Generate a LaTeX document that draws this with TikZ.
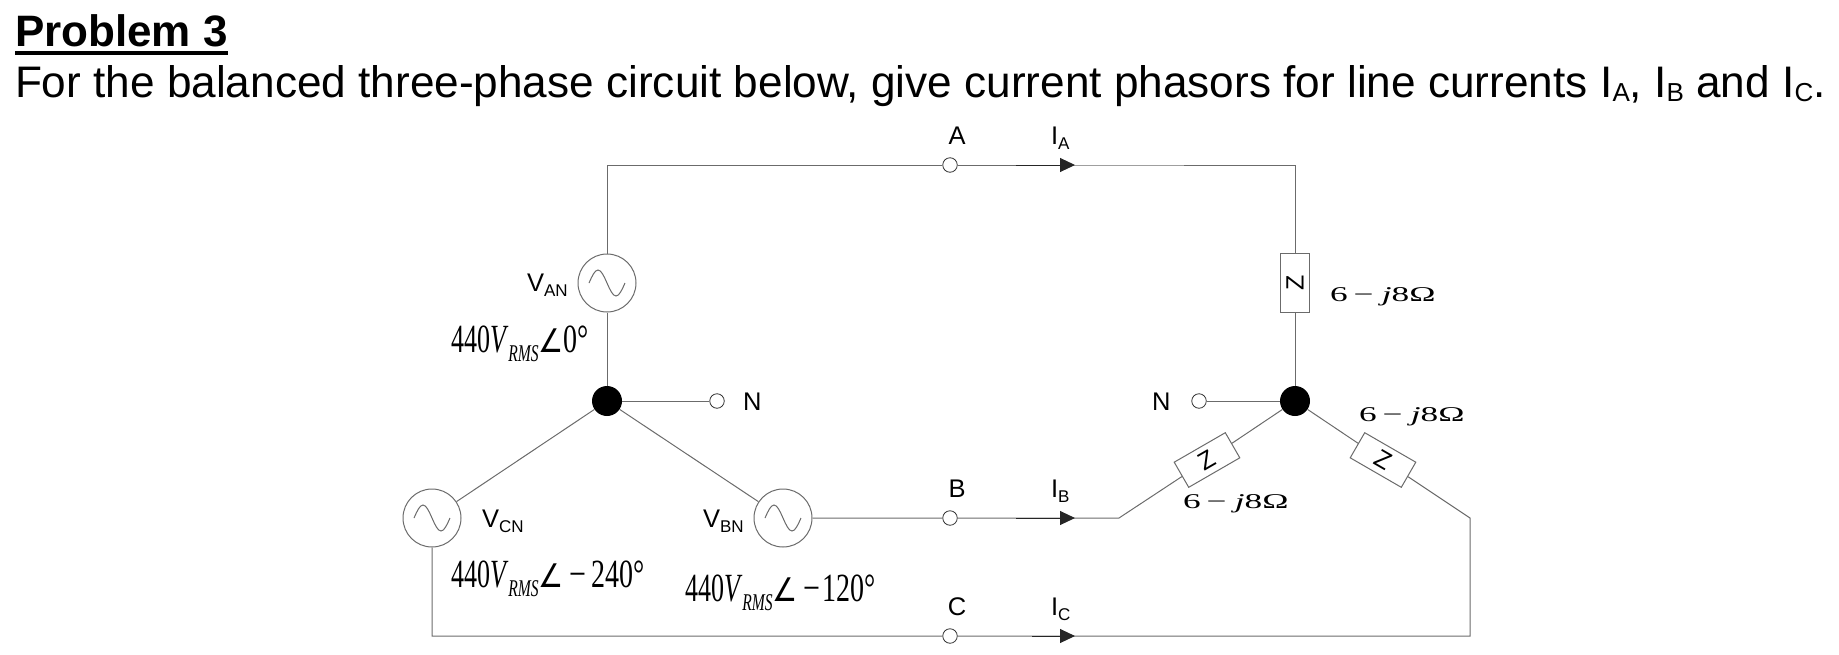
\documentclass[tikz,border=0pt]{standalone}
\usepackage{fontspec}
\setmainfont{Liberation Sans}
\newfontfamily\timesf{Liberation Serif}
\newfontfamily\dejaf{DejaVu Sans}
\usetikzlibrary{arrows.meta}
\definecolor{wire}{gray}{0.42}
\newcommand{\lowtxt}[3]{\raisebox{-#2pt}{\fontsize{#1}{#1}\selectfont #3}}
\newcommand{\vlab}[2]{\fontsize{25.5}{25.5}\selectfont #1\lowtxt{17}{5}{#2}}
\newcommand{\phbase}{\scalebox{.65}[1]{\fontsize{40}{40}\selectfont\timesf 440\textit{V}\raisebox{-9pt}{\fontsize{24}{24}\selectfont\textit{RMS}}}\scalebox{1.08}[1.25]{\fontsize{26}{26}\selectfont\dejaf ∠}}
\newcommand{\phval}[1]{\scalebox{.7}[1]{\fontsize{40}{40}\selectfont\timesf #1°}}
\newcommand{\phminus}{\hspace{6pt}\scalebox{.75}[1]{\fontsize{40}{40}\selectfont\timesf −}}
\newcommand{\zlab}{\scalebox{1.68}[1]{\fontsize{21}{21}\selectfont\timesf 6\hspace{3.5pt}−\hspace{5pt}\textit{j}8Ω}}
\tikzset{
  wireline/.style={draw=wire,line width=1pt},
  source/.style={circle,draw=wire,line width=1pt,fill=white,minimum size=58pt,inner sep=0pt},
  sinecurve/.style={draw=wire,line width=1pt},
  terminal/.style={circle,draw=black!80,line width=.8pt,fill=white,minimum size=14.5pt,inner sep=0pt},
  junction/.style={circle,fill=black,minimum size=30pt,inner sep=0pt},
  zbox/.style={rectangle,draw=wire,line width=1pt,fill=white,minimum width=59pt,minimum height=29pt,inner sep=0pt,font=\fontsize{25}{25}\selectfont},
  txt/.style={anchor=base west,inner sep=0pt,outer sep=0pt},
  ctxt/.style={anchor=base,inner sep=0pt,outer sep=0pt,font=\fontsize{25.5}{25.5}\selectfont},
  currentarrow/.style={draw=black!85,line width=1pt,-{Triangle[length=15pt,width=14pt]}}
}
\begin{document}
\begin{tikzpicture}[x=1pt,y=-1pt]
\useasboundingbox (0,0) rectangle (1839,654);
% title
\node[txt] (title) at (15,46) {\fontsize{44}{44}\selectfont\bfseries Problem 3};
\fill (15,50.5) rectangle (228,54.5);
\node[txt] (question) at (15,97) {\fontsize{44.15}{44.15}\selectfont For the balanced three-phase circuit below, give current phasors for line currents I\lowtxt{26}{4}{A}, I\lowtxt{26}{4}{B} and I\lowtxt{26}{4}{C}.};
% nodes
\node[source] (van) at (607,283) {};
\node[source] (vbn) at (783,518) {};
\node[source] (vcn) at (432,518) {};
\node[junction] (ls) at (607,401) {};
\node[junction] (rs) at (1295,401) {};
\node[terminal] (nl) at (717,401) {};
\node[terminal] (nr) at (1199,401) {};
\node[terminal] (a) at (950,165) {};
\node[terminal] (b) at (950,518) {};
\node[terminal] (c) at (950,636) {};
\node[zbox,rotate=90] (za) at (1295,283) {Z};
\node[zbox,rotate=30] (zb) at (1207,460) {Z};
\node[zbox,rotate=-30] (zc) at (1383,460) {Z};
\coordinate (ac) at (607,165);
\coordinate (arc) at (1295,165);
\coordinate (bk) at (1119,518);
\coordinate (ck) at (1470,518);
\coordinate (cr) at (1470,636);
\coordinate (cl) at (432,636);
\coordinate (ias) at (1016,165);
\coordinate (iat) at (1075,165);
\coordinate (ibs) at (1016,518);
\coordinate (ibt) at (1075,518);
\coordinate (ics) at (1032,636);
\coordinate (ict) at (1075,636);
% wires
\draw[wireline] (van.north) -- (ac) -- (a) -- (iat) -- (arc) -- (za.east);
\draw[wireline] (za.west) -- (rs);
\draw[wireline] (van.south) -- (ls);
\draw[wireline] (ls) -- (nl);
\draw[wireline] (ls) -- (vbn);
\draw[wireline] (ls) -- (vcn);
\draw[wireline] (rs) -- (nr);
\draw[wireline] (rs) -- (zb);
\draw[wireline] (rs) -- (zc);
\draw[wireline] (vbn) -- (b) -- (ibt) -- (bk) -- (zb);
\draw[wireline] (zc) -- (ck) -- (cr) -- (ict) -- (c) -- (cl) -- (vcn);
\draw[currentarrow] (ias) -- (iat);
\draw[currentarrow] (ibs) -- (ibt);
\draw[currentarrow] (ics) -- (ict);
% sine symbols
\foreach \s in {van,vbn,vcn}{
  \draw[sinecurve] ([xshift=-18pt]\s.center) sin ++(9,-13) cos ++(9,13) sin ++(9,13) cos ++(9,-13);
}
% labels
\node[ctxt] (la) at (957,144) {A};
\node[ctxt] (lb) at (957,497) {B};
\node[ctxt] (lc) at (957,615) {C};
\node[txt] (lia) at (1051,144) {\vlab{I}{A}};
\node[txt] (lib) at (1051,497) {\vlab{I}{B}};
\node[txt] (lic) at (1051,615) {\vlab{I}{C}};
\node[txt] (ln1) at (743,410) {\fontsize{25.5}{25.5}\selectfont N};
\node[txt] (ln2) at (1152,410) {\fontsize{25.5}{25.5}\selectfont N};
\node[txt] (lvan) at (527,291) {\vlab{V}{AN}};
\node[txt] (lvcn) at (482,527) {\vlab{V}{CN}};
\node[txt] (lvbn) at (703,527) {\vlab{V}{BN}};
\node[txt] (pa) at (451,352) {\phbase\phval{0}};
\node[txt] (pc) at (451,587) {\phbase\phminus\hspace{5pt}\phval{240}};
\node[txt] (pb) at (685,601) {\phbase\phminus\hspace{2pt}\phval{120}};
\node[txt] (za1) at (1330,301) {\zlab};
\node[txt] (zc1) at (1359,421) {\zlab};
\node[txt] (zb1) at (1183,508) {\zlab};
\end{tikzpicture}
\end{document}
